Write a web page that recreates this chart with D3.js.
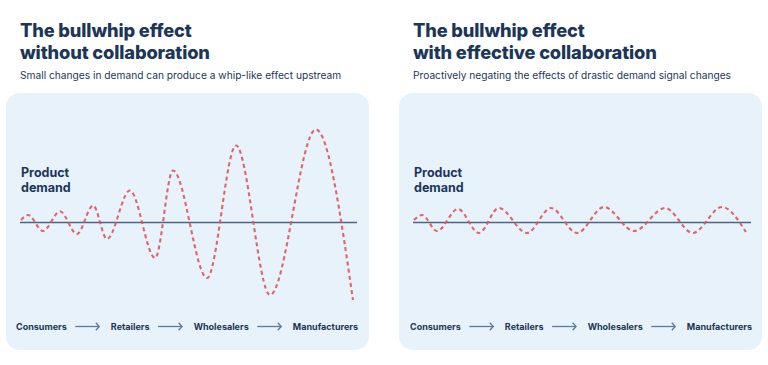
<!DOCTYPE html>
<html>
<head>
<meta charset="utf-8">
<script src="https://cdn.jsdelivr.net/npm/d3@7"></script>
<style>
  html, body { margin: 0; padding: 0; background: #ffffff; }
  svg { display: block; }
  text { font-family: Inter, "Noto Sans", sans-serif; }
</style>
</head>
<body>
<svg id="chart" width="768" height="365"></svg>
<script>
// ---------- data ----------
const titlesLeft = ["The bullwhip effect", "without collaboration"];
const subtitleLeft = "Small changes in demand can produce a whip-like effect upstream";
const titlesRight = ["The bullwhip effect", "with effective collaboration"];
const subtitleRight = "Proactively negating the effects of drastic demand signal changes";
const axisLabel = ["Product", "demand"];
const stages = ["Consumers", "Retailers", "Wholesalers", "Manufacturers"];

// position along the supply chain (0-100) and demand deviation
const withoutPos    = [0.3, 2.4, 6.8, 11.9, 16.9, 21.7, 25.8, 32.6, 40.1, 45.4, 55.5, 64.1, 74.2, 87.8, 98.8];
const withoutDemand = [2.5, 7.5, -8.5, 11, -11.5, 17, -16.5, 32, -35.5, 52, -55.5, 77, -72.5, 93, -77.5];
const withPos       = [0.3, 2.7, 7.1, 13.3, 19.5, 25.4, 33.7, 40.8, 48.5, 56.5, 65.4, 74.6, 82.8, 91.4, 98.5];
const withDemand    = [2.5, 7.5, -8.5, 13.5, -10.5, 14.5, -10.5, 14.5, -10.5, 15.5, -8.5, 14.5, -10.5, 15.5, -9.5];

// ---------- drawing ----------
const svg = d3.select("#chart");
const navy = "#1b3658";
const panelFill = "#e8f2fb";
const lineCol = "#4d6580";
const waveCol = "#e0545d";
const arrowCol = "#5f7b97";

function drawPanel(opts) {
  const g = svg.append("g");
  // titles
  g.selectAll("text.title").data(opts.titles).join("text")
    .attr("class", "title")
    .attr("x", opts.tx)
    .attr("y", (d, i) => 36.5 + i * 22)
    .attr("font-size", 18.3)
    .attr("font-weight", 800)
    .attr("fill", navy)
    .attr("letter-spacing", -0.15)
    .text(d => d);
  g.append("text")
    .attr("x", opts.tx).attr("y", 78.5)
    .attr("font-size", 10.2).attr("fill", navy)
    .text(opts.subtitle);

  // card
  g.append("rect")
    .attr("x", opts.px).attr("y", 93)
    .attr("width", 363).attr("height", 257)
    .attr("rx", 14).attr("ry", 14)
    .attr("fill", panelFill);

  // axis label
  g.selectAll("text.axl").data(axisLabel).join("text")
    .attr("class", "axl")
    .attr("x", opts.tx + 1)
    .attr("y", (d, i) => 177 + i * 15)
    .attr("font-size", 12.5).attr("font-weight", 700)
    .attr("fill", navy)
    .text(d => d);

  // scales
  const x = d3.scaleLinear().domain([0, 100]).range([opts.x0, opts.x1]);
  const y = d3.scaleLinear().domain([-100, 100]).range([322.5, 122.5]);

  // baseline
  g.append("line")
    .attr("x1", x(0)).attr("x2", x(100))
    .attr("y1", y(0)).attr("y2", y(0))
    .attr("stroke", lineCol).attr("stroke-width", 1.6);

  // wave
  const pts = opts.pos.map((p, i) => [p, opts.demand[i]]);
  const line = d3.line().x(d => x(d[0])).y(d => y(d[1])).curve(d3.curveMonotoneX);
  g.append("path")
    .attr("d", line(pts))
    .attr("fill", "none")
    .attr("stroke", waveCol)
    .attr("stroke-width", 2.1)
    .attr("stroke-dasharray", "4,3.2")
    .attr("opacity", 0.9);

  // stage labels with arrows
  const labelG = g.append("g");
  const widths = [];
  const texts = labelG.selectAll("text").data(stages).join("text")
    .attr("y", 330)
    .attr("font-size", 9).attr("font-weight", 700)
    .attr("fill", navy)
    .text(d => d);
  texts.each(function () { widths.push(this.getComputedTextLength()); });
  const arrowW = 24, gapA = 9, gapB = 12;
  const natural = d3.sum(widths) + (stages.length - 1) * (arrowW + gapA + gapB);
  const extra = ((opts.lx1 - opts.lx0) - natural) / ((stages.length - 1) * 2);
  let cx = opts.lx0;
  const arrowXs = [];
  texts.attr("x", (d, i) => {
    const xx = cx;
    cx += widths[i];
    if (i < stages.length - 1) {
      const a0 = cx + gapA + extra;
      arrowXs.push(a0);
      cx = a0 + arrowW + gapB + extra;
    }
    return xx;
  });
  const ag = labelG.selectAll("g.arrow").data(arrowXs).join("g")
    .attr("class", "arrow")
    .attr("transform", d => `translate(${d},326.5)`);
  ag.append("line").attr("x1", 0).attr("x2", arrowW).attr("y1", 0).attr("y2", 0)
    .attr("stroke", arrowCol).attr("stroke-width", 1.3);
  ag.append("path").attr("d", `M${arrowW - 3.5},-3.8 L${arrowW},0 L${arrowW - 3.5},3.8`)
    .attr("fill", "none").attr("stroke", arrowCol).attr("stroke-width", 1.3);
}

drawPanel({ px: 6, tx: 20, x0: 20, x1: 357, lx0: 16, lx1: 358,
  titles: titlesLeft, subtitle: subtitleLeft, pos: withoutPos, demand: withoutDemand });
drawPanel({ px: 399, tx: 413, x0: 413, x1: 751, lx0: 410, lx1: 752,
  titles: titlesRight, subtitle: subtitleRight, pos: withPos, demand: withDemand });
</script>
</body>
</html>
